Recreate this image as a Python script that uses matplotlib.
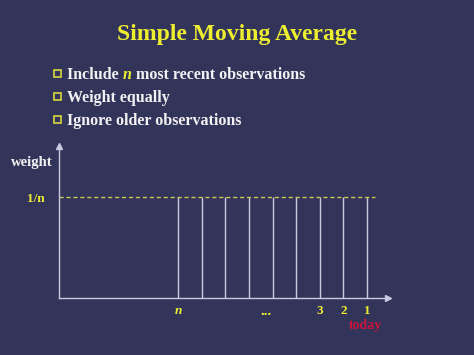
import matplotlib
matplotlib.use("Agg")
import matplotlib.pyplot as plt
import matplotlib.transforms as mtransforms
from matplotlib.patches import Rectangle
from matplotlib.text import Annotation

# ---- data ----
n_obs = 9
lags = [9, 8, 7, 6, 5, 4, 3, 2, 1]
weights = [1 / n_obs] * n_obs
tick_pos = [9, 5.3, 3, 2, 1]
tick_labels = ["n", "...", "3", "2", "1"]
title = "Simple Moving Average"
bullets = [["Include ", "n", " most recent observations"],
           ["Weight equally"],
           ["Ignore older observations"]]

BG = "#33345a"
YEL = "#eeee30"
WHITE = "#f2f2f2"
LINE = "#c9c9e2"
RED = "#c8143c"
SERIF = ["Liberation Serif", "DejaVu Serif"]

W, H = 474, 355
fig = plt.figure(figsize=(W / 100, H / 100), dpi=100, facecolor=BG)


def fx(px):
    return px / W


def fy(py):
    return 1 - py / H


# title
fig.text(fx(237), fy(32), title, ha="center", va="center_baseline", color=YEL,
         fontsize=17, fontweight="bold", family=SERIF)

# bullets
ys = [73, 96, 119]
BFS = 11.5
for y, parts in zip(ys, bullets):
    fig.add_artist(Rectangle((fx(53.5), fy(y + 3.5)), 7 / W, 7 / H,
                             transform=fig.transFigure, fill=False,
                             edgecolor="#d8d840", lw=1.2))
    prev = fig.text(fx(67), fy(y), parts[0], ha="left", va="center_baseline",
                    color=WHITE, fontsize=BFS, fontweight="bold", family=SERIF)
    for p in parts[1:]:
        italic = (p == "n")
        prev = fig.add_artist(Annotation(
            p, xy=(1, 0), xycoords=prev, va="bottom", ha="left",
            color=YEL if italic else WHITE, fontsize=BFS, fontweight="bold",
            family=SERIF, style="italic" if italic else "normal"))

# chart axes
ax = fig.add_axes([fx(59), fy(298), (388 - 59) / W, (298 - 146) / H])
ax.set_facecolor(BG)
ax.set_xlim(14.05, 0.11)
ax.set_ylim(0, 1.505 / n_obs)
for s in ("top", "right"):
    ax.spines[s].set_visible(False)
for s in ("left", "bottom"):
    ax.spines[s].set_color(LINE)
    ax.spines[s].set_linewidth(1.0)

ax.vlines(lags, 0, weights, color=LINE, lw=1.0)
blend = mtransforms.blended_transform_factory(ax.transAxes, ax.transData)
ax.plot([0, 0.96], [1 / n_obs, 1 / n_obs], transform=blend,
        color="#c8c850", lw=1.0, ls=(0, (3, 2)))

# arrow heads
ax.plot([1], [0], marker=">", ms=4, color=LINE, transform=ax.transAxes, clip_on=False)
ax.plot([0], [1], marker="^", ms=4, color=LINE, transform=ax.transAxes, clip_on=False)

ax.set_xticks(tick_pos)
ax.set_xticklabels(tick_labels)
ax.tick_params(axis="x", length=0, pad=5)
for lab in ax.get_xticklabels():
    lab.set_color(YEL)
    lab.set_fontweight("bold")
    lab.set_fontfamily(SERIF)
    lab.set_fontsize(9.5)
    if lab.get_text() == "n":
        lab.set_style("italic")
    if lab.get_text() == "...":
        lab.set_fontsize(11)

ax.set_yticks([1 / n_obs])
ax.set_yticklabels(["1/n"])
ax.tick_params(axis="y", length=0, pad=10)
for lab in ax.get_yticklabels():
    lab.set_color(YEL)
    lab.set_fontweight("bold")
    lab.set_fontfamily(SERIF)
    lab.set_fontsize(9.5)

fig.text(fx(32), fy(162), "weight", ha="center", va="center", color=WHITE,
         fontsize=10.5, fontweight="bold", family=SERIF)
fig.text(fx(365), fy(326), "today", ha="center", va="center", color=RED,
         fontsize=10, fontweight="bold", family=SERIF)

fig.savefig("out.png", dpi=100, facecolor=BG)
